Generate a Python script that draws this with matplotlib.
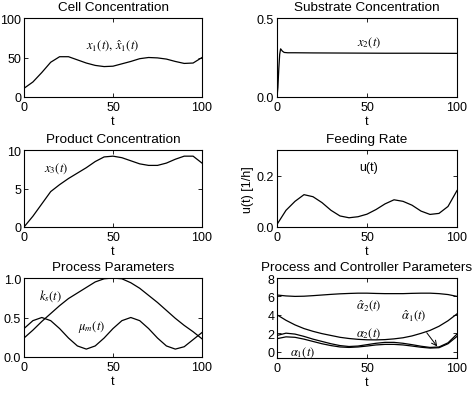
import matplotlib
matplotlib.use("Agg")
import matplotlib.pyplot as plt

plt.rcParams["font.family"] = ["Liberation Sans", "DejaVu Sans"]
plt.rcParams["mathtext.fontset"] = "stix"

# time grid shared by most series
t = [0, 5, 10, 15, 20, 25, 30, 35, 40, 45, 50, 55, 60, 65, 70, 75, 80, 85, 90, 95, 100]

# cell concentration x1(t)
cell_x1 = [11, 19, 31, 44, 51, 51, 47, 43, 40, 38.5, 39, 42, 45, 48.5, 50, 49.5, 48, 45, 42.5, 43, 50]

# substrate concentration x2(t) (own time grid, fast start)
t_sub = [0, 0.5, 1, 1.5, 2, 3, 4, 6, 10, 20, 40, 60, 80, 100]
substrate_x2 = [0, 0.06, 0.18, 0.27, 0.305, 0.29, 0.282, 0.28, 0.28, 0.279, 0.278, 0.277, 0.277, 0.276]

# product concentration x3(t)
product_x3 = [0, 1.4, 3.0, 4.6, 5.5, 6.3, 7.0, 7.7, 8.5, 9.1, 9.2, 9.0, 8.6, 8.2, 8.0, 8.0, 8.3, 8.8, 9.2, 9.2, 8.3]

# feeding rate u(t)
feed_u = [0.01, 0.065, 0.10, 0.126, 0.118, 0.095, 0.065, 0.043, 0.036, 0.04, 0.05,
          0.068, 0.09, 0.106, 0.10, 0.085, 0.062, 0.049, 0.053, 0.08, 0.142]

# process parameters
k_s = [0.24, 0.34, 0.45, 0.55, 0.65, 0.74, 0.81, 0.88, 0.95, 0.99, 1.0,
       0.99, 0.94, 0.87, 0.78, 0.69, 0.59, 0.49, 0.40, 0.32, 0.23]
mu_m = [0.36, 0.46, 0.5, 0.46, 0.36, 0.24, 0.14, 0.1, 0.14, 0.24, 0.36,
        0.46, 0.5, 0.46, 0.36, 0.24, 0.14, 0.1, 0.13, 0.22, 0.31]

# process and controller parameters
alpha2_hat = [6.15, 6.05, 6.0, 6.02, 6.08, 6.15, 6.22, 6.28, 6.32, 6.35, 6.35,
              6.32, 6.3, 6.3, 6.3, 6.33, 6.35, 6.35, 6.3, 6.2, 6.0]
alpha2 = [4.0, 3.4, 2.9, 2.5, 2.2, 1.95, 1.75, 1.55, 1.42, 1.33, 1.28,
          1.27, 1.3, 1.38, 1.5, 1.7, 1.98, 2.3, 2.75, 3.35, 4.1]
alpha1_hat = [1.75, 2.0, 1.9, 1.65, 1.35, 1.1, 0.85, 0.65, 0.55, 0.6, 0.75,
              0.9, 1.0, 1.0, 0.9, 0.75, 0.58, 0.45, 0.5, 0.95, 1.9]
alpha1 = [1.4, 1.6, 1.55, 1.35, 1.1, 0.85, 0.65, 0.5, 0.45, 0.5, 0.6,
          0.72, 0.78, 0.78, 0.72, 0.6, 0.47, 0.38, 0.42, 0.85, 1.65]

W, H = 474, 410


def box(left, right, top, bottom):
    """Axes rectangle from pixel edges (origin top-left)."""
    return [left / W, 1 - bottom / H, (right - left) / W, (bottom - top) / H]


def style(ax, title, ylim, yticks):
    ax.set_xlim(0, 100)
    ax.set_ylim(*ylim)
    ax.set_xticks([0, 50, 100])
    ax.set_yticks(yticks)
    ax.set_title(title, fontsize=9.7, pad=6)
    ax.set_xlabel("t", fontsize=9, labelpad=1.5)
    ax.tick_params(direction="in", top=True, right=True, length=3, width=0.6,
                   labelsize=9)
    ax.tick_params(axis="x", pad=3)
    ax.tick_params(axis="y", pad=2)
    for s in ax.spines.values():
        s.set_linewidth(0.8)


fig = plt.figure(figsize=(W / 100, H / 100), dpi=100)
lw = 0.9
mfs = 9

# Cell Concentration
ax = fig.add_axes(box(24, 202, 19, 98))
ax.plot(t, cell_x1, color="black", lw=lw)
style(ax, "Cell Concentration", (0, 100), [0, 50, 100])
ax.text(50, 65, r"$x_1(t),\,\hat{x}_1(t)$", fontsize=mfs, ha="center", va="center")

# Substrate Concentration
ax = fig.add_axes(box(277, 457, 19, 98))
ax.plot(t_sub, substrate_x2, color="black", lw=lw)
style(ax, "Substrate Concentration", (0, 0.5), [0, 0.5])
ax.text(51, 0.35, r"$x_2(t)$", fontsize=mfs, ha="center", va="center")

# Product Concentration
ax = fig.add_axes(box(24, 202, 151, 228))
ax.plot(t, product_x3, color="black", lw=lw)
style(ax, "Product Concentration", (0, 10), [0, 5, 10])
ax.text(18, 7.7, r"$x_3(t)$", fontsize=mfs, ha="center", va="center")

# Feeding Rate
ax = fig.add_axes(box(277, 457, 151, 228))
ax.plot(t, feed_u, color="black", lw=lw)
style(ax, "Feeding Rate", (0, 0.3), [0, 0.2])
ax.set_ylabel("u(t) [1/h]", fontsize=9, labelpad=2)
ax.text(51, 0.232, "u(t)", fontsize=9, ha="center", va="center")

# Process Parameters
ax = fig.add_axes(box(24, 202, 279, 358))
ax.plot(t, k_s, color="black", lw=lw)
ax.plot(t, mu_m, color="black", lw=lw)
style(ax, "Process Parameters", (0, 1), [0, 0.5, 1])
ax.text(15, 0.78, r"$k_s(t)$", fontsize=mfs, ha="center", va="center")
ax.text(38, 0.39, r"$\mu_m(t)$", fontsize=mfs, ha="center", va="center")

# Process and Controller Parameters
ax = fig.add_axes(box(277, 457, 279, 359))
for series in (alpha2_hat, alpha2, alpha1_hat, alpha1):
    ax.plot(t, series, color="black", lw=lw)
style(ax, "Process and Controller Parameters", (-0.7, 8), [0, 2, 4, 6, 8])
ax.text(51, 5.0, r"$\hat{\alpha}_2(t)$", fontsize=mfs, ha="center", va="center")
ax.text(51, 2.1, r"$\alpha_2(t)$", fontsize=mfs, ha="center", va="center")
ax.text(14, 0.0, r"$\alpha_1(t)$", fontsize=mfs, ha="center", va="center")
ax.annotate(r"$\hat{\alpha}_1(t)$", xy=(89, 0.55), xytext=(76, 3.9),
            fontsize=mfs, ha="center", va="center",
            arrowprops=dict(arrowstyle="->", color="black", lw=0.7,
                            shrinkA=6, shrinkB=0))

fig.savefig("out.png", dpi=100)
